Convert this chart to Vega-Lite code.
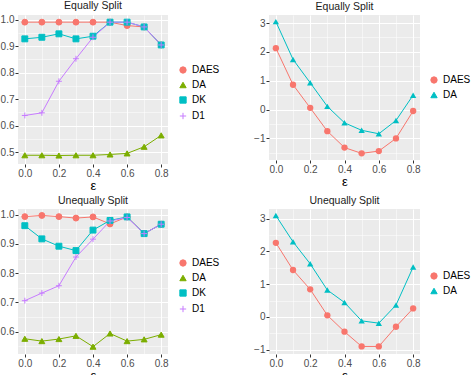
{
  "$schema": "https://vega.github.io/schema/vega-lite/v6.json",
  "padding": {"left": 0, "top": 1, "right": 0, "bottom": 0},
  "config": {
    "font": "Liberation Sans",
    "view": {"fill": "#EBEBEB", "stroke": null},
    "axis": {"domain": false, "gridColor": "#FFFFFF", "tickColor": "#333333", "tickSize": 3, "labelColor": "#4D4D4D", "labelFontSize": 10, "labelPadding": 1, "titleFontWeight": "normal", "titleColor": "#000000", "titleFontSize": 13, "titlePadding": 1},
    "legend": {"title": null, "labelFontSize": 10, "labelColor": "#000000", "symbolSize": 40, "rowPadding": 4, "symbolStrokeWidth": 1},
    "title": {"fontSize": 10.5, "fontWeight": "normal", "color": "#1A1A1A", "offset": 3},
    "concat": {"spacing": 10}
  },
  "spacing": 3,
  "resolve": {"scale": {"color": "independent", "shape": "independent", "stroke": "independent"}, "legend": {"color": "independent", "shape": "independent", "stroke": "independent"}},
  "vconcat": [
    {
      "resolve": {"scale": {"color": "independent", "shape": "independent", "stroke": "independent"}, "legend": {"color": "independent", "shape": "independent", "stroke": "independent"}},
      "spacing": 33,
      "hconcat": [
        {
          "title": "Equally Split",
          "width": 150, "height": 149,
          "data": {"values": [
            {"series": "DAES", "eps": 0.0, "value": 0.99}, {"series": "DAES", "eps": 0.1, "value": 0.99}, {"series": "DAES", "eps": 0.2, "value": 0.99}, {"series": "DAES", "eps": 0.3, "value": 0.99}, {"series": "DAES", "eps": 0.4, "value": 0.99}, {"series": "DAES", "eps": 0.5, "value": 0.99}, {"series": "DAES", "eps": 0.6, "value": 0.977}, {"series": "DAES", "eps": 0.7, "value": 0.972}, {"series": "DAES", "eps": 0.8, "value": 0.904},
            {"series": "DA", "eps": 0.0, "value": 0.488}, {"series": "DA", "eps": 0.1, "value": 0.488}, {"series": "DA", "eps": 0.2, "value": 0.487}, {"series": "DA", "eps": 0.3, "value": 0.488}, {"series": "DA", "eps": 0.4, "value": 0.488}, {"series": "DA", "eps": 0.5, "value": 0.491}, {"series": "DA", "eps": 0.6, "value": 0.495}, {"series": "DA", "eps": 0.7, "value": 0.52}, {"series": "DA", "eps": 0.8, "value": 0.563},
            {"series": "DK", "eps": 0.0, "value": 0.927}, {"series": "DK", "eps": 0.1, "value": 0.933}, {"series": "DK", "eps": 0.2, "value": 0.946}, {"series": "DK", "eps": 0.3, "value": 0.927}, {"series": "DK", "eps": 0.4, "value": 0.937}, {"series": "DK", "eps": 0.5, "value": 0.99}, {"series": "DK", "eps": 0.6, "value": 0.99}, {"series": "DK", "eps": 0.7, "value": 0.972}, {"series": "DK", "eps": 0.8, "value": 0.904},
            {"series": "D1", "eps": 0.0, "value": 0.638}, {"series": "D1", "eps": 0.1, "value": 0.648}, {"series": "D1", "eps": 0.2, "value": 0.767}, {"series": "D1", "eps": 0.3, "value": 0.852}, {"series": "D1", "eps": 0.4, "value": 0.933}, {"series": "D1", "eps": 0.5, "value": 0.99}, {"series": "D1", "eps": 0.6, "value": 0.99}, {"series": "D1", "eps": 0.7, "value": 0.972}, {"series": "D1", "eps": 0.8, "value": 0.904}
          ]},
          "encoding": {
            "x": {"field": "eps", "type": "quantitative", "scale": {"domain": [-0.04, 0.84], "nice": false, "zero": false},
                  "axis": {"title": "ε", "values": [0, 0.1, 0.2, 0.3, 0.4, 0.5, 0.6, 0.7, 0.8], "labelExpr": "abs(datum.value*5-round(datum.value*5))<0.01 ? format(datum.value,'.1f') : ''",
                           "gridWidth": {"condition": {"test": "abs(datum.value*5-round(datum.value*5))<0.01", "value": 1.1}, "value": 0.5},
                           "tickOpacity": {"condition": {"test": "abs(datum.value*5-round(datum.value*5))<0.01", "value": 1}, "value": 0}}},
            "y": {"field": "value", "type": "quantitative", "scale": {"domain": [0.455, 1.017], "nice": false, "zero": false},
                  "axis": {"title": null, "values": [0.5, 0.55, 0.6, 0.65, 0.7, 0.75, 0.8, 0.85, 0.9, 0.95, 1.0], "labelExpr": "abs(datum.value*10-round(datum.value*10))<0.01 ? format(datum.value,'.1f') : ''",
                           "gridWidth": {"condition": {"test": "abs(datum.value*10-round(datum.value*10))<0.01", "value": 1.1}, "value": 0.5},
                           "tickOpacity": {"condition": {"test": "abs(datum.value*10-round(datum.value*10))<0.01", "value": 1}, "value": 0}}},
            "color": {"field": "series", "type": "nominal", "scale": {"domain": ["DAES", "DA", "DK", "D1"], "range": ["#F8766D", "#7CAE00", "#00BFC4", "#C77CFF"]},
                      "legend": {"orient": "none", "legendX": 160, "legendY": 50}}
          },
          "layer": [
            {"mark": {"type": "line", "strokeWidth": 1}},
            {"mark": {"type": "point", "filled": true, "size": 35, "opacity": 1, "strokeWidth": 1},
             "encoding": {
               "shape": {"field": "series", "type": "nominal", "scale": {"domain": ["DAES", "DA", "DK", "D1"], "range": ["circle", "triangle-up", "square", "M-1,0L1,0M0,-1L0,1"]}},
               "stroke": {"field": "series", "type": "nominal", "scale": {"domain": ["DAES", "DA", "DK", "D1"], "range": ["#F8766D", "#7CAE00", "#00BFC4", "#C77CFF"]}}
             }}
          ]
        },
        {
          "title": "Equally Split",
          "width": 151, "height": 145,
          "data": {"values": [
            {"series": "DAES", "eps": 0.0, "value": 2.13}, {"series": "DAES", "eps": 0.1, "value": 0.86}, {"series": "DAES", "eps": 0.2, "value": 0.06}, {"series": "DAES", "eps": 0.3, "value": -0.75}, {"series": "DAES", "eps": 0.4, "value": -1.32}, {"series": "DAES", "eps": 0.5, "value": -1.52}, {"series": "DAES", "eps": 0.6, "value": -1.44}, {"series": "DAES", "eps": 0.7, "value": -1.0}, {"series": "DAES", "eps": 0.8, "value": -0.05},
            {"series": "DA", "eps": 0.0, "value": 3.05}, {"series": "DA", "eps": 0.1, "value": 1.74}, {"series": "DA", "eps": 0.2, "value": 0.93}, {"series": "DA", "eps": 0.3, "value": 0.11}, {"series": "DA", "eps": 0.4, "value": -0.46}, {"series": "DA", "eps": 0.5, "value": -0.72}, {"series": "DA", "eps": 0.6, "value": -0.84}, {"series": "DA", "eps": 0.7, "value": -0.38}, {"series": "DA", "eps": 0.8, "value": 0.5}
          ]},
          "encoding": {
            "x": {"field": "eps", "type": "quantitative", "scale": {"domain": [-0.04, 0.84], "nice": false, "zero": false},
                  "axis": {"title": "ε", "values": [0, 0.1, 0.2, 0.3, 0.4, 0.5, 0.6, 0.7, 0.8], "labelExpr": "abs(datum.value*5-round(datum.value*5))<0.01 ? format(datum.value,'.1f') : ''",
                           "gridWidth": {"condition": {"test": "abs(datum.value*5-round(datum.value*5))<0.01", "value": 1.1}, "value": 0.5},
                           "tickOpacity": {"condition": {"test": "abs(datum.value*5-round(datum.value*5))<0.01", "value": 1}, "value": 0}}},
            "y": {"field": "value", "type": "quantitative", "scale": {"domain": [-1.75, 3.28], "nice": false, "zero": false},
                  "axis": {"title": null, "values": [-1.5, -1, -0.5, 0, 0.5, 1, 1.5, 2, 2.5, 3], "labelExpr": "abs(datum.value-round(datum.value))<0.01 ? format(datum.value,'d') : ''",
                           "gridWidth": {"condition": {"test": "abs(datum.value-round(datum.value))<0.01", "value": 1.1}, "value": 0.5},
                           "tickOpacity": {"condition": {"test": "abs(datum.value-round(datum.value))<0.01", "value": 1}, "value": 0}}},
            "color": {"field": "series", "type": "nominal", "scale": {"domain": ["DAES", "DA"], "range": ["#F8766D", "#00BFC4"]},
                      "legend": {"orient": "none", "legendX": 160, "legendY": 60}}
          },
          "layer": [
            {"mark": {"type": "line", "strokeWidth": 1}},
            {"mark": {"type": "point", "filled": true, "size": 40, "opacity": 1},
             "encoding": {
               "shape": {"field": "series", "type": "nominal", "scale": {"domain": ["DAES", "DA"], "range": ["circle", "triangle-up"]}}
             }}
          ]
        }
      ]
    },
    {
      "resolve": {"scale": {"color": "independent", "shape": "independent", "stroke": "independent"}, "legend": {"color": "independent", "shape": "independent", "stroke": "independent"}},
      "spacing": 33,
      "hconcat": [
        {
          "title": "Unequally Split",
          "width": 150, "height": 145,
          "data": {"values": [
            {"series": "DAES", "eps": 0.0, "value": 0.993}, {"series": "DAES", "eps": 0.1, "value": 0.997}, {"series": "DAES", "eps": 0.2, "value": 0.993}, {"series": "DAES", "eps": 0.3, "value": 0.988}, {"series": "DAES", "eps": 0.4, "value": 0.992}, {"series": "DAES", "eps": 0.5, "value": 0.968}, {"series": "DAES", "eps": 0.6, "value": 0.992}, {"series": "DAES", "eps": 0.7, "value": 0.935}, {"series": "DAES", "eps": 0.8, "value": 0.967},
            {"series": "DA", "eps": 0.0, "value": 0.576}, {"series": "DA", "eps": 0.1, "value": 0.568}, {"series": "DA", "eps": 0.2, "value": 0.575}, {"series": "DA", "eps": 0.3, "value": 0.586}, {"series": "DA", "eps": 0.4, "value": 0.549}, {"series": "DA", "eps": 0.5, "value": 0.594}, {"series": "DA", "eps": 0.6, "value": 0.568}, {"series": "DA", "eps": 0.7, "value": 0.574}, {"series": "DA", "eps": 0.8, "value": 0.59},
            {"series": "DK", "eps": 0.0, "value": 0.962}, {"series": "DK", "eps": 0.1, "value": 0.917}, {"series": "DK", "eps": 0.2, "value": 0.892}, {"series": "DK", "eps": 0.3, "value": 0.877}, {"series": "DK", "eps": 0.4, "value": 0.947}, {"series": "DK", "eps": 0.5, "value": 0.98}, {"series": "DK", "eps": 0.6, "value": 0.992}, {"series": "DK", "eps": 0.7, "value": 0.935}, {"series": "DK", "eps": 0.8, "value": 0.967},
            {"series": "D1", "eps": 0.0, "value": 0.706}, {"series": "D1", "eps": 0.1, "value": 0.732}, {"series": "D1", "eps": 0.2, "value": 0.757}, {"series": "D1", "eps": 0.3, "value": 0.855}, {"series": "D1", "eps": 0.4, "value": 0.916}, {"series": "D1", "eps": 0.5, "value": 0.978}, {"series": "D1", "eps": 0.6, "value": 0.99}, {"series": "D1", "eps": 0.7, "value": 0.935}, {"series": "D1", "eps": 0.8, "value": 0.967}
          ]},
          "encoding": {
            "x": {"field": "eps", "type": "quantitative", "scale": {"domain": [-0.04, 0.84], "nice": false, "zero": false},
                  "axis": {"title": "ε", "values": [0, 0.1, 0.2, 0.3, 0.4, 0.5, 0.6, 0.7, 0.8], "labelExpr": "abs(datum.value*5-round(datum.value*5))<0.01 ? format(datum.value,'.1f') : ''",
                           "gridWidth": {"condition": {"test": "abs(datum.value*5-round(datum.value*5))<0.01", "value": 1.1}, "value": 0.5},
                           "tickOpacity": {"condition": {"test": "abs(datum.value*5-round(datum.value*5))<0.01", "value": 1}, "value": 0}}},
            "y": {"field": "value", "type": "quantitative", "scale": {"domain": [0.524, 1.019], "nice": false, "zero": false},
                  "axis": {"title": null, "values": [0.55, 0.6, 0.65, 0.7, 0.75, 0.8, 0.85, 0.9, 0.95, 1.0], "labelExpr": "abs(datum.value*10-round(datum.value*10))<0.01 ? format(datum.value,'.1f') : ''",
                           "gridWidth": {"condition": {"test": "abs(datum.value*10-round(datum.value*10))<0.01", "value": 1.1}, "value": 0.5},
                           "tickOpacity": {"condition": {"test": "abs(datum.value*10-round(datum.value*10))<0.01", "value": 1}, "value": 0}}},
            "color": {"field": "series", "type": "nominal", "scale": {"domain": ["DAES", "DA", "DK", "D1"], "range": ["#F8766D", "#7CAE00", "#00BFC4", "#C77CFF"]},
                      "legend": {"orient": "none", "legendX": 160, "legendY": 49}}
          },
          "layer": [
            {"mark": {"type": "line", "strokeWidth": 1}},
            {"mark": {"type": "point", "filled": true, "size": 35, "opacity": 1, "strokeWidth": 1},
             "encoding": {
               "shape": {"field": "series", "type": "nominal", "scale": {"domain": ["DAES", "DA", "DK", "D1"], "range": ["circle", "triangle-up", "square", "M-1,0L1,0M0,-1L0,1"]}},
               "stroke": {"field": "series", "type": "nominal", "scale": {"domain": ["DAES", "DA", "DK", "D1"], "range": ["#F8766D", "#7CAE00", "#00BFC4", "#C77CFF"]}}
             }}
          ]
        },
        {
          "title": "Unequally Split",
          "width": 151, "height": 145,
          "data": {"values": [
            {"series": "DAES", "eps": 0.0, "value": 2.26}, {"series": "DAES", "eps": 0.1, "value": 1.43}, {"series": "DAES", "eps": 0.2, "value": 0.84}, {"series": "DAES", "eps": 0.3, "value": 0.05}, {"series": "DAES", "eps": 0.4, "value": -0.45}, {"series": "DAES", "eps": 0.5, "value": -0.9}, {"series": "DAES", "eps": 0.6, "value": -0.9}, {"series": "DAES", "eps": 0.7, "value": -0.3}, {"series": "DAES", "eps": 0.8, "value": 0.26},
            {"series": "DA", "eps": 0.0, "value": 3.09}, {"series": "DA", "eps": 0.1, "value": 2.29}, {"series": "DA", "eps": 0.2, "value": 1.62}, {"series": "DA", "eps": 0.3, "value": 0.82}, {"series": "DA", "eps": 0.4, "value": 0.44}, {"series": "DA", "eps": 0.5, "value": -0.12}, {"series": "DA", "eps": 0.6, "value": -0.19}, {"series": "DA", "eps": 0.7, "value": 0.36}, {"series": "DA", "eps": 0.8, "value": 1.52}
          ]},
          "encoding": {
            "x": {"field": "eps", "type": "quantitative", "scale": {"domain": [-0.04, 0.84], "nice": false, "zero": false},
                  "axis": {"title": "ε", "values": [0, 0.1, 0.2, 0.3, 0.4, 0.5, 0.6, 0.7, 0.8], "labelExpr": "abs(datum.value*5-round(datum.value*5))<0.01 ? format(datum.value,'.1f') : ''",
                           "gridWidth": {"condition": {"test": "abs(datum.value*5-round(datum.value*5))<0.01", "value": 1.1}, "value": 0.5},
                           "tickOpacity": {"condition": {"test": "abs(datum.value*5-round(datum.value*5))<0.01", "value": 1}, "value": 0}}},
            "y": {"field": "value", "type": "quantitative", "scale": {"domain": [-1.13, 3.29], "nice": false, "zero": false},
                  "axis": {"title": null, "values": [-1, -0.5, 0, 0.5, 1, 1.5, 2, 2.5, 3], "labelExpr": "abs(datum.value-round(datum.value))<0.01 ? format(datum.value,'d') : ''",
                           "gridWidth": {"condition": {"test": "abs(datum.value-round(datum.value))<0.01", "value": 1.1}, "value": 0.5},
                           "tickOpacity": {"condition": {"test": "abs(datum.value-round(datum.value))<0.01", "value": 1}, "value": 0}}},
            "color": {"field": "series", "type": "nominal", "scale": {"domain": ["DAES", "DA"], "range": ["#F8766D", "#00BFC4"]},
                      "legend": {"orient": "none", "legendX": 160, "legendY": 62}}
          },
          "layer": [
            {"mark": {"type": "line", "strokeWidth": 1}},
            {"mark": {"type": "point", "filled": true, "size": 40, "opacity": 1},
             "encoding": {
               "shape": {"field": "series", "type": "nominal", "scale": {"domain": ["DAES", "DA"], "range": ["circle", "triangle-up"]}}
             }}
          ]
        }
      ]
    }
  ]
}
